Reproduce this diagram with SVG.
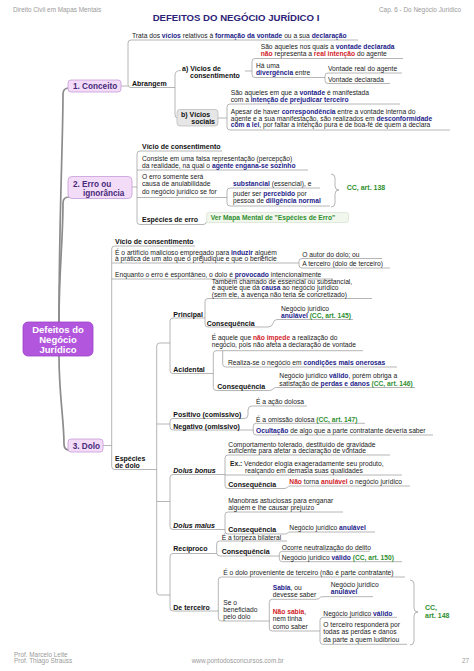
<svg xmlns="http://www.w3.org/2000/svg" width="474" height="671" viewBox="0 0 474 671">
<style>
text{font-family:"Liberation Sans",Arial,Helvetica,sans-serif;font-size:6.7px;fill:#222}
.hd{font-size:6.4px;fill:#9a9a9a}
.title{font-size:9.6px;font-weight:bold;fill:#2b2277}
.lb{font-size:7px;font-weight:bold;fill:#111}
.it{font-style:italic}
.bl{font-weight:bold;fill:#23238a}
.rd{font-weight:bold;fill:#d2232a}
.gr{font-weight:bold;fill:#2f8f2f}
.g7{font-size:7px}
.b{font-weight:bold}
.ln{fill:none;stroke:#9d9d9d;stroke-width:0.75}
.tr{fill:none;stroke:#8c8c8c;stroke-width:1.7;stroke-linecap:round}
.bx{fill:#f3dcf8;stroke:#c79bd9;stroke-width:0.8}
.bt{font-size:8.2px;font-weight:bold;fill:#47297a}
.gb{fill:#e6e6e6;stroke:#b5b5b5;stroke-width:0.7}
.lk{fill:#f1f7ed;stroke:#c9d6c2;stroke-width:0.5}
.main{fill:#b257dd;stroke:#9a3fc8;stroke-width:0.8}
.mt{font-size:9.5px;font-weight:bold;fill:#fff;text-anchor:middle}
</style>
<rect width="474" height="671" fill="#fff"/>
<g id="header">
<text class="hd" x="13" y="11.5">Direito Civil em Mapas Mentais</text>
<text class="hd" x="379" y="11.5">Cap. 6 - Do Negócio Jurídico</text>
<text class="title" x="236" y="21" text-anchor="middle">DEFEITOS DO NEGÓCIO JURÍDICO I</text>
</g>
<g id="connectors">
<path class="tr" d="M59,322 C59,220 63,140 63,94 Q63,88 69,88"/>
<path class="tr" d="M59,322 C59,270 63,240 63,203 Q63,197 69,197"/>
<path class="tr" d="M59,356 C59,395 64,420 64,444 Q64,450 69,450"/>
<path class="ln" d="M121,86 H128"/>
<path class="ln" d="M358,40 H131 Q128,40 128,43 V84.5 Q128,87.5 131,87.5 H175"/>
<path class="ln" d="M181,70.5 Q175,70.5 175,75 V114 Q175,118 177,118"/>
<path class="ln" d="M245,71 H252"/>
<path class="ln" d="M403,58.5 H255 Q252,58.5 252,61.5 V74.5 Q252,77.5 255,77.5 H325"/>
<path class="ln" d="M402,73 H328 Q325,73 325,76 V80.5 Q325,83.5 328,83.5 H390"/>
<path class="ln" d="M218,118 H227"/>
<path class="ln" d="M400,104 H230 Q227,104 227,107 V127 Q227,130 230,130 H450"/>
<path class="ln" d="M132,187 H137"/>
<path class="ln" d="M222,151 H140 Q137,151 137,154 V221.5 Q137,224.5 140,224.5 H203 Q206,224.5 206.5,222"/>
<path class="ln" d="M137,170 H308 M137,197.5 H227"/>
<path class="ln" d="M320,188 H230 Q227,188 227,191 V203 Q227,206 230,206 H330"/>
<path class="ln" d="M331,174 Q335,174 335,178 V186 Q335,190 339,190 Q335,190 335,194 V203 Q335,207 331,207"/>
<path class="ln" d="M103,445.5 H111.7"/>
<path class="ln" d="M195,246 H114.7 Q111.7,246 111.7,249 V466.5 Q111.7,469.5 114.7,469.5 H156.7"/>
<path class="ln" d="M111.7,263 H299 M111.7,279 H333"/>
<path class="ln" d="M382,258.5 H302 Q299,258.5 299,261.5 V265 Q299,268 302,268 H390"/>
<path class="ln" d="M170,343 H159.7 Q156.7,343 156.7,346 V592 Q156.7,595 159.7,595 H170 M156.7,424 H170 M156.7,501.5 H170"/>
<path class="ln" d="M205,318 H173 Q170,318 170,321 V370.5 Q170,373.5 173,373.5 H213.3"/>
<path class="ln" d="M372,298.5 H208 Q205,298.5 205,301.5 V324 Q205,327 208,327 H268 Q272,327 273,323.5 Q274,319.5 277,319.5 H353"/>
<path class="ln" d="M363,350.7 H216.3 Q213.3,350.7 213.3,353.7 V387.5 Q213.3,390.5 216.3,390.5 H268 Q272,390.5 273,389 Q274,387.5 277,387.5 H415"/>
<path class="ln" d="M222.7,350.7 V364 Q222.7,367 225.7,367 H397"/>
<path class="ln" d="M307,406 H252 Q248,406 248,410 V415 Q248,418.5 244,418.5 H173 Q170,418.5 170,421.5 V427 Q170,430 173,430 H253.3"/>
<path class="ln" d="M365,423.3 H256.3 Q253.3,423.3 253.3,426.3 V432 Q253.3,435 256.3,435 H433"/>
<path class="ln" d="M225,474.5 H173 Q170,474.5 170,477.5 V526.5 Q170,529.5 173,529.5 H225"/>
<path class="ln" d="M390,455 H228 Q225,455 225,458 V485.5 Q225,488.5 228,488.5 H284 Q287,488.5 287.5,487 Q288,486 290,486 H410 M225,475 H402"/>
<path class="ln" d="M343,512 H228 Q225,512 225,515 V531 Q225,534 228,534 H284 Q287,534 287.5,533 Q288,532 290,532 H375"/>
<path class="ln" d="M216.7,553.5 H173 Q170,553.5 170,556.5 V608 Q170,611 173,611 H218.3"/>
<path class="ln" d="M287,541 H219.7 Q216.7,541 216.7,544 V553 Q216.7,556 219.7,556 H279.3"/>
<path class="ln" d="M370,551.3 H282.3 Q279.3,551.3 279.3,554.3 V558.7 Q279.3,561.7 282.3,561.7 H402"/>
<path class="ln" d="M405,577 H221.3 Q218.3,577 218.3,580 V618 Q218.3,621 221.3,621 H269.3"/>
<path class="ln" d="M315,599.3 H272.3 Q269.3,599.3 269.3,602.3 V628 Q269.3,631 272.3,631 H320 M315,599.3 Q319,599.3 319.5,598 Q320,596.7 323,596.7 H373"/>
<path class="ln" d="M397,617.3 H323 Q320,617.3 320,620.3 V641.3 Q320,644.3 323,644.3 H407"/>
<path class="ln" d="M410,580 Q414,580 414,584 V608 Q414,612 418,612 Q414,612 414,616 V641 Q414,645 410,645"/>
</g>
<g id="main">
<rect class="main" x="23" y="322" width="70" height="34" rx="5"/>
<text class="mt" x="58" y="332.6">Defeitos do</text>
<text class="mt" x="58" y="343">Negócio</text>
<text class="mt" x="58" y="353.4">Jurídico</text>
</g>
<g id="conceito">
<rect class="bx" x="68" y="80" width="53" height="12" rx="3"/>
<text class="bt" x="73" y="89">1. Conceito</text>
<text x="132" y="37.5">Trata dos <tspan class="bl">vícios</tspan> relativos à <tspan class="bl">formação da vontade</tspan> ou a sua <tspan class="bl">declaração</tspan></text>
<text class="lb" x="132" y="85.5">Abrangem</text>
<text class="lb" x="182" y="70.5">a) Vícios de</text>
<text class="lb" x="190" y="78">consentimento</text>
<text x="260.7" y="49">São aqueles nos quais a <tspan class="bl">vontade declarada</tspan></text>
<text x="260.7" y="56.4"><tspan class="rd">não</tspan> representa a <tspan class="rd">real intenção</tspan> do agente</text>
<text x="256" y="68">Há uma</text>
<text x="256" y="75"><tspan class="bl">divergência</tspan> entre</text>
<text x="328" y="70.7">Vontade real do agente</text>
<text x="328" y="81.5">Vontade declarada</text>
<rect class="gb" x="177" y="109.5" width="41" height="16.5" rx="3"/>
<text class="lb" x="181" y="116.5">b) Vícios</text>
<text class="lb" x="215" y="124" text-anchor="end">sociais</text>
<text x="230.7" y="95">São aqueles em que a <tspan class="bl">vontade</tspan> é manifestada</text>
<text x="230.7" y="102">com a <tspan class="bl">intenção de prejudicar terceiro</tspan></text>
<text x="230.7" y="114">Apesar de haver <tspan class="bl">correspondência</tspan> entre a vontade interna do</text>
<text x="230.7" y="120.7">agente e a sua manifestação, são realizados em <tspan class="bl">desconformidade</tspan></text>
<text x="230.7" y="127.4"><tspan class="bl">com a lei</tspan>, por faltar a intenção pura e de boa-fé de quem a declara</text>
</g>
<g id="erro">
<rect class="bx" x="68" y="176.5" width="64" height="22" rx="4"/>
<text class="bt" x="73" y="187">2. Erro ou</text>
<text class="bt" x="83" y="196">ignorância</text>
<text class="lb" x="142" y="149">Vício de consentimento</text>
<text x="142" y="160.5">Consiste em uma falsa representação (percepção)</text>
<text x="142" y="167.5">da realidade, na qual o <tspan class="bl">agente engana-se sozinho</tspan></text>
<text x="142" y="179">O erro somente será</text>
<text x="142" y="186.3">causa de anulabilidade</text>
<text x="142" y="193.5">do negócio jurídico se for</text>
<text x="233" y="186"><tspan class="bl">substancial</tspan> (essencial), e</text>
<text x="233" y="195.5">puder ser <tspan class="bl">percebido</tspan> por</text>
<text x="233" y="203">pessoa de <tspan class="bl">diligência normal</tspan></text>
<text class="gr g7" x="346.7" y="190">CC, art. 138</text>
<text class="lb" x="142" y="222">Espécies de erro</text>
<rect class="lk" x="206.5" y="212.5" width="142" height="10" rx="2"/>
<text class="gr" x="210.7" y="219.8">Ver Mapa Mental de &quot;Espécies de Erro&quot;</text>
</g>
<g id="dolo">
<rect class="bx" x="68" y="439" width="35" height="13" rx="3"/>
<text class="bt" x="72.7" y="448.7">3. Dolo</text>
<text class="lb" x="115" y="244">Vício de consentimento</text>
<text x="115" y="254.5">É o artifício malicioso empregado para <tspan class="bl">induzir</tspan> alguém</text>
<text x="115" y="261.3">à prática de um ato que o prejudique e que o beneficie</text>
<text x="302.3" y="257">O autor do dolo; ou</text>
<text x="302.3" y="266">A terceiro (dolo de terceiro)</text>
<text x="115" y="277.4">Enquanto o erro é espontâneo, o dolo é <tspan class="bl">provocado</tspan> intencionalmente</text>
<text class="lb" x="115" y="460.8">Espécies</text>
<text class="lb" x="115" y="468">de dolo</text>
</g>
<g id="principal">
<text class="lb" x="173.3" y="316.5">Principal</text>
<text x="211.7" y="284">Também chamado de essencial ou substancial,</text>
<text x="211.7" y="290.3">é aquele que dá <tspan class="bl">causa</tspan> ao negócio jurídico</text>
<text x="211.7" y="296.6">(sem ele, a avença não teria se concretizado)</text>
<text class="lb" x="206.7" y="325.8">Consequência</text>
<text x="281" y="310.8">Negócio jurídico</text>
<text x="281" y="318.3"><tspan class="bl">anulável</tspan> <tspan class="gr">(CC, art. 145)</tspan></text>
</g>
<g id="acidental">
<text class="lb" x="173.3" y="371.8">Acidental</text>
<text x="211.7" y="339.7">É aquele que <tspan class="rd">não impede</tspan> a realização do</text>
<text x="211.7" y="346.6">negócio, pois não afeta a declaração de vontade</text>
<text x="228" y="365.2">Realiza-se o negócio em <tspan class="bl">condições mais onerosas</tspan></text>
<text class="lb" x="217.3" y="389.2">Consequência</text>
<text x="279.3" y="377.5">Negócio jurídico <tspan class="bl">válido</tspan>, porém obriga a</text>
<text x="279.3" y="385.8">satisfação de <tspan class="bl">perdas e danos</tspan> <tspan class="gr">(CC, art. 146)</tspan></text>
</g>
<g id="positivo">
<text class="lb" x="173.3" y="416.5">Positivo (comissivo)</text>
<text x="256" y="404.2">É a ação dolosa</text>
</g>
<g id="negativo">
<text class="lb" x="173.3" y="428.5">Negativo (omissivo)</text>
<text x="256" y="421.8">É a omissão dolosa <tspan class="gr">(CC, art. 147)</tspan></text>
<text x="256" y="433"><tspan class="bl">Ocultação</tspan> de algo que a parte contratante deveria saber</text>
</g>
<g id="dolus-bonus">
<text class="lb it" x="173.3" y="472.5">Dolus bonus</text>
<text x="228.3" y="446.5">Comportamento tolerado, destituído de gravidade</text>
<text x="228.3" y="453.2">suficiente para afetar a declaração de vontade</text>
<text x="230" y="465.8"><tspan class="b">Ex.:</tspan> Vendedor elogia exageradamente seu produto,</text>
<text x="245" y="473.2">realçando em demasia suas qualidades</text>
<text class="lb" x="228.3" y="486.5">Consequência</text>
<text x="289.3" y="484.2"><tspan class="rd">Não</tspan> torna <tspan class="rd">anulável</tspan> o negócio jurídico</text>
</g>
<g id="dolus-malus">
<text class="lb it" x="173.3" y="528">Dolus malus</text>
<text x="228.3" y="503">Manobras astuciosas para enganar</text>
<text x="228.3" y="510">alguém e lhe causar prejuízo</text>
<text class="lb" x="228.3" y="532">Consequência</text>
<text x="289.3" y="530.2">Negócio jurídico <tspan class="bl">anulável</tspan></text>
</g>
<g id="reciproco">
<text class="lb" x="173.3" y="551">Recíproco</text>
<text x="221.7" y="539.5">É a torpeza bilateral</text>
<text class="lb" x="221.7" y="554.3">Consequência</text>
<text x="281.7" y="549.8">Ocorre neutralização do delito</text>
<text x="281.7" y="559.8">Negócio jurídico <tspan class="bl">válido</tspan> <tspan class="gr">(CC, art. 150)</tspan></text>
</g>
<g id="de-terceiro">
<text class="lb" x="173.3" y="609.8">De terceiro</text>
<text x="223.3" y="575.2">É o dolo proveniente de terceiro (não é parte contratante)</text>
<text x="223.3" y="605.2">Se o</text>
<text x="223.3" y="611.8">beneficiado</text>
<text x="223.3" y="619.2">pelo dolo</text>
<text x="272.7" y="589.8"><tspan class="bl">Sabia</tspan>, ou</text>
<text x="272.7" y="597.3">devesse saber</text>
<text x="330.7" y="586.8">Negócio jurídico</text>
<text x="330.7" y="594.2" class="bl">anulável</text>
<text x="272.7" y="613.5"><tspan class="rd">Não sabia</tspan>,</text>
<text x="272.7" y="621.3">nem tinha</text>
<text x="272.7" y="629">como saber</text>
<text x="323.3" y="615.8">Negócio jurídico <tspan class="bl">válido</tspan></text>
<text x="323.3" y="626.5">O terceiro responderá por</text>
<text x="323.3" y="634.2">todas as perdas e danos</text>
<text x="323.3" y="641.8">da parte a quem ludibriou</text>
<text class="gr g7" x="425" y="609.8">CC,</text>
<text class="gr g7" x="425" y="617.5">art. 148</text>
</g>
<g id="footer">
<text class="hd" x="14" y="656.5">Prof. Marcelo Leite</text>
<text class="hd" x="14" y="663.2">Prof. Thiago Strauss</text>
<text class="hd" x="191.7" y="663.2">www.pontodosconcursos.com.br</text>
<text class="hd" x="462" y="663.2">27</text>
</g>
</svg>
